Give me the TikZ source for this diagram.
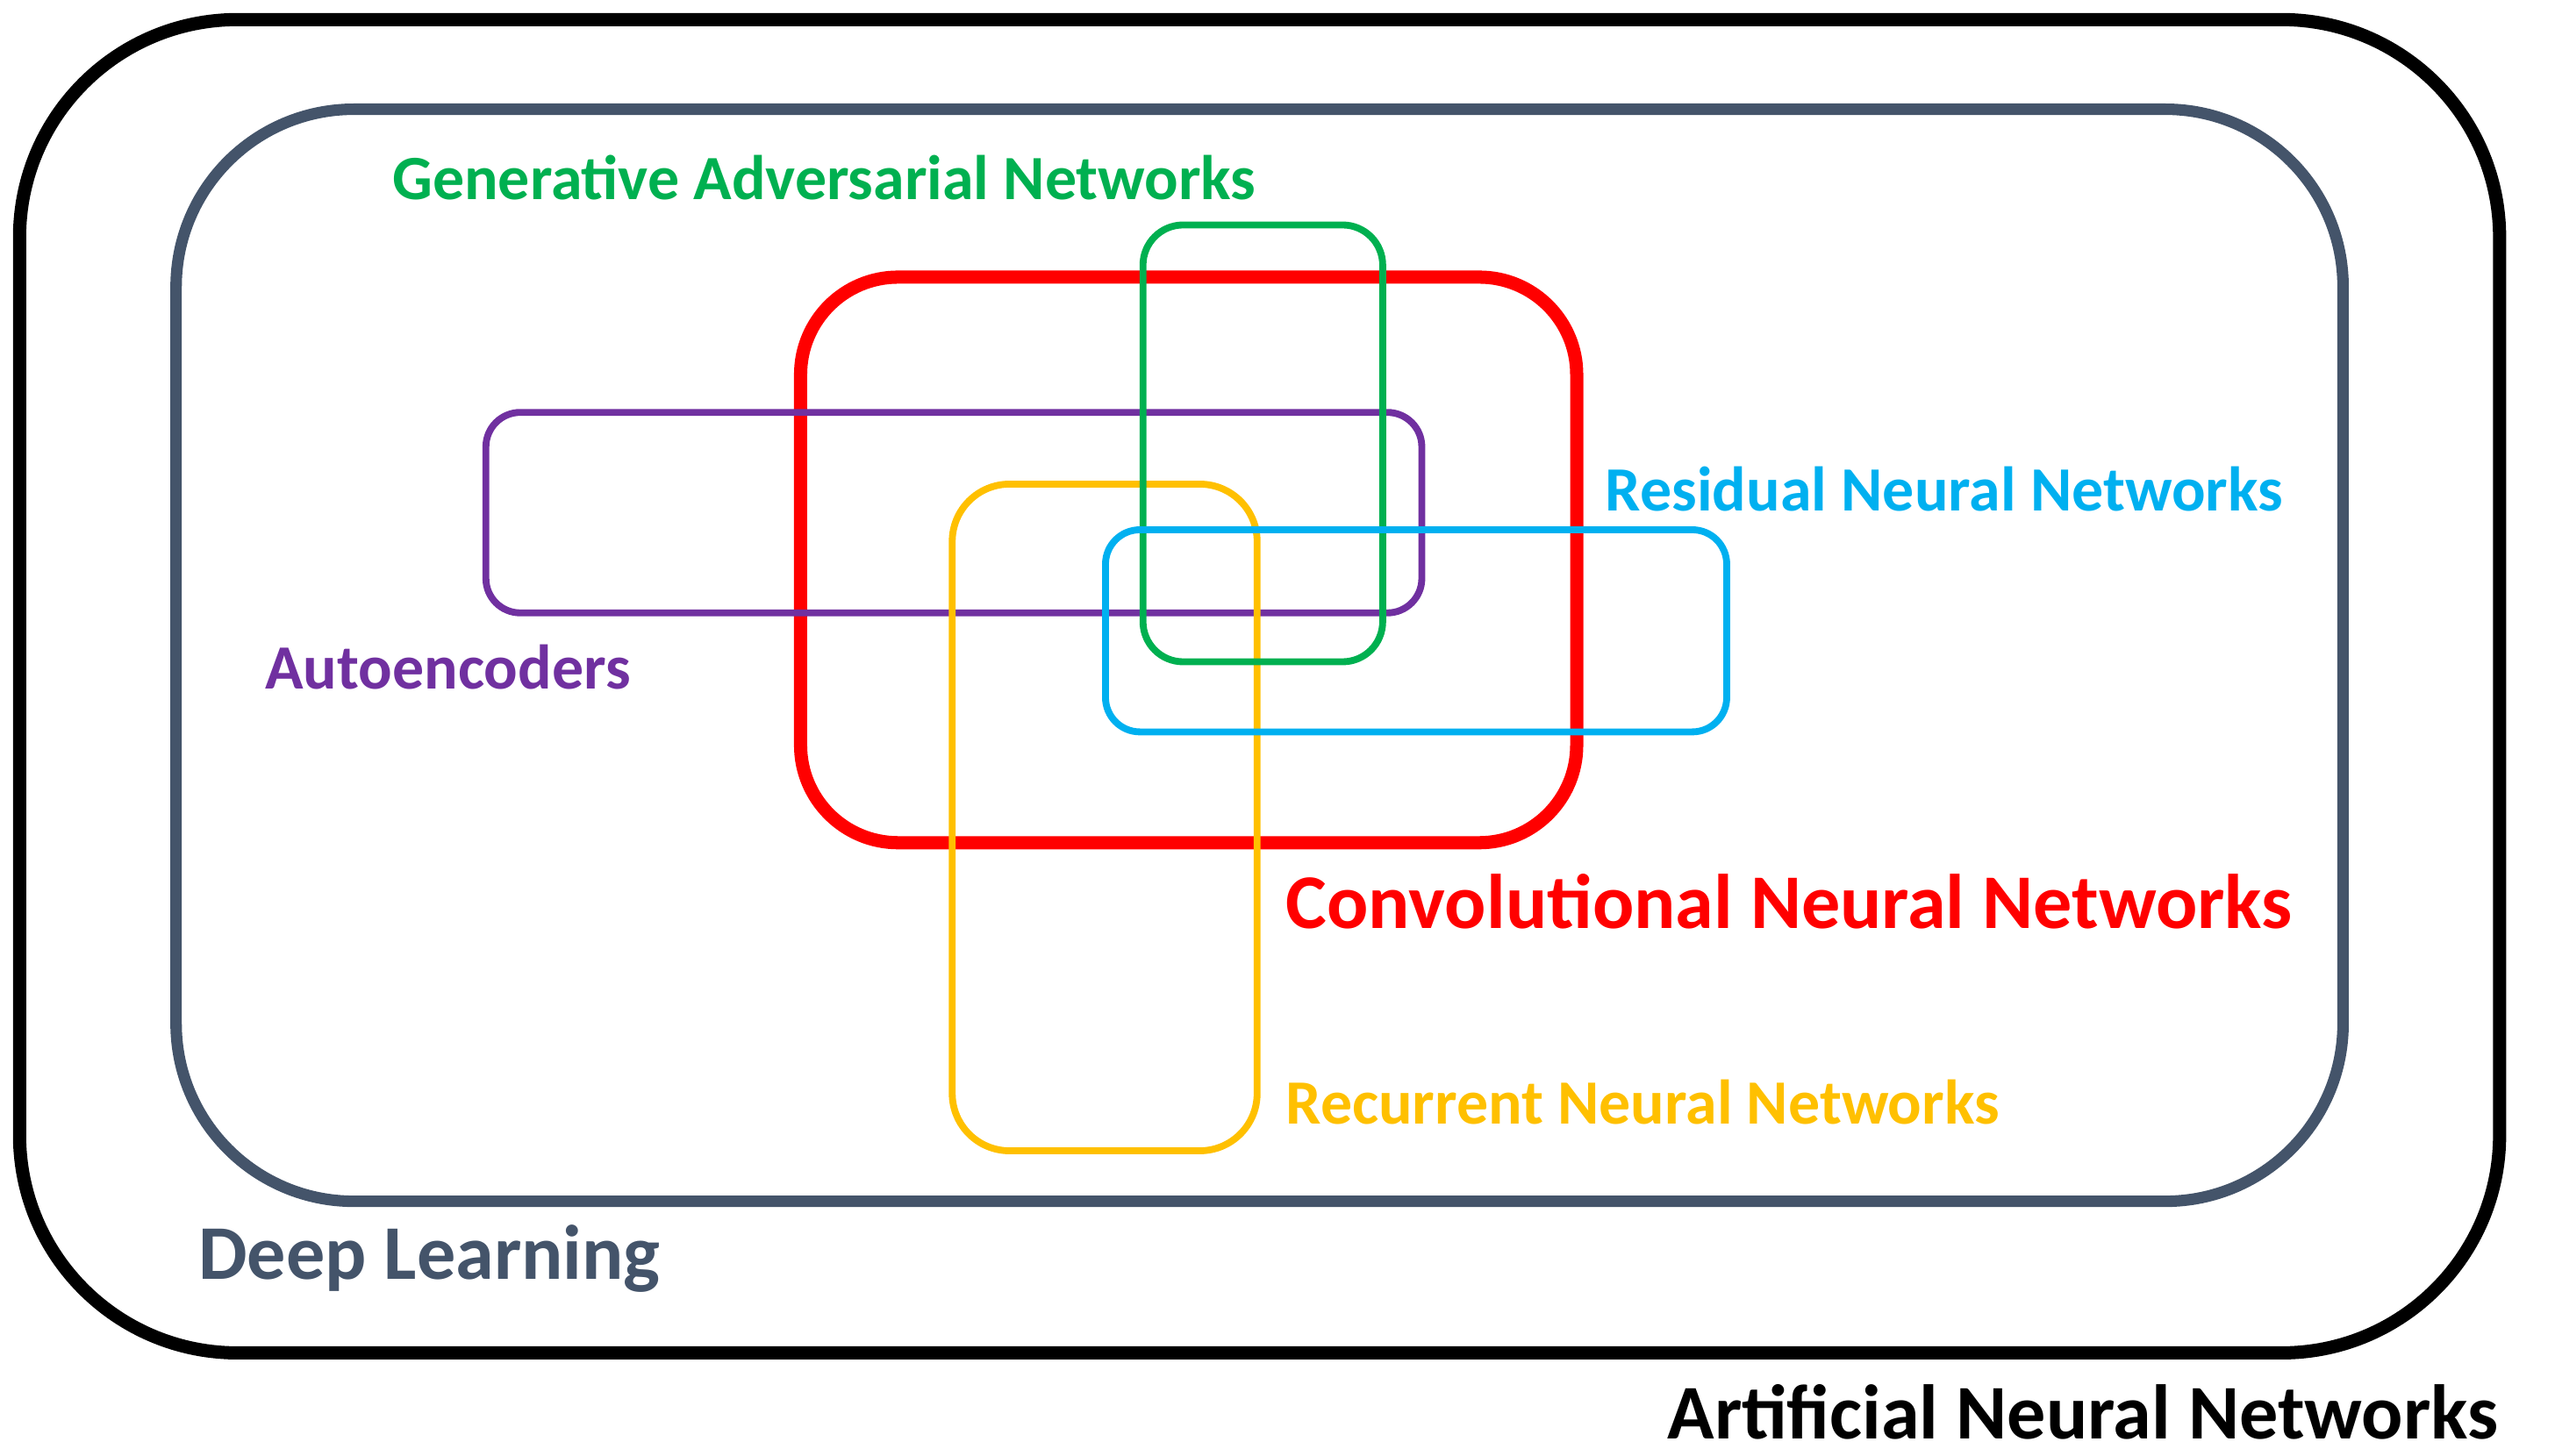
\documentclass[tikz,border=0pt]{standalone}
\usepackage{fontspec}
\setmainfont{Carlito}
\begin{document}
\begin{tikzpicture}[x=0.01cm,y=-0.01cm,
	lbl/.style={font=\bfseries\fontsize{11}{13}\selectfont, anchor=west, inner sep=0pt},
	big/.style={lbl, font=\bfseries\fontsize{13.5}{15}\selectfont}]

	% Define colors
	\definecolor{slate}{HTML}{44546A}
	\definecolor{ganGreen}{HTML}{00B050}
	\definecolor{aePurple}{HTML}{7030A0}
	\definecolor{rnnYellow}{HTML}{FFC000}
	\definecolor{resBlue}{HTML}{00B0F0}
	\definecolor{cnnRed}{HTML}{FF0000}

	\useasboundingbox (0,0) rectangle (1567,893);

	% Draw the outer boxes
	\draw[black, line width=2.3pt, rounded corners=38pt] (12,12) rectangle (1533,830);
	\draw[slate, line width=2pt, rounded corners=31pt] (108,67) rectangle (1437,737);

	% Draw the inner boxes
	\draw[cnnRed, line width=2.3pt, rounded corners=17pt] (491,170) rectangle (967,517);
	\draw[aePurple, line width=1.2pt, rounded corners=6pt] (298,253) rectangle (872,376);
	\draw[rnnYellow, line width=1.2pt, rounded corners=10pt] (584,297) rectangle (771,706);
	\draw[ganGreen, line width=1.2pt, rounded corners=7pt] (701,138) rectangle (848,406);
	\draw[resBlue, line width=1.2pt, rounded corners=6pt] (678,325) rectangle (1059,449);

	% Labels
	\node[lbl, text=ganGreen] (gan) at (240,109) {Generative Adversarial Networks};
	\node[lbl, text=resBlue] (res) at (984,300) {Residual Neural Networks};
	\node[lbl, text=aePurple] (ae) at (162,409) {Autoencoders};
	\node[big, text=cnnRed] (cnn) at (788,553) {Convolutional Neural Networks};
	\node[lbl, text=rnnYellow] (rnn) at (788,676) {Recurrent Neural Networks};
	\node[big, text=slate] (dl) at (121,772) {Deep Learning};
	\node[big, text=black] (ann) at (1022,866) {Artificial Neural Networks};

\end{tikzpicture}
\end{document}
